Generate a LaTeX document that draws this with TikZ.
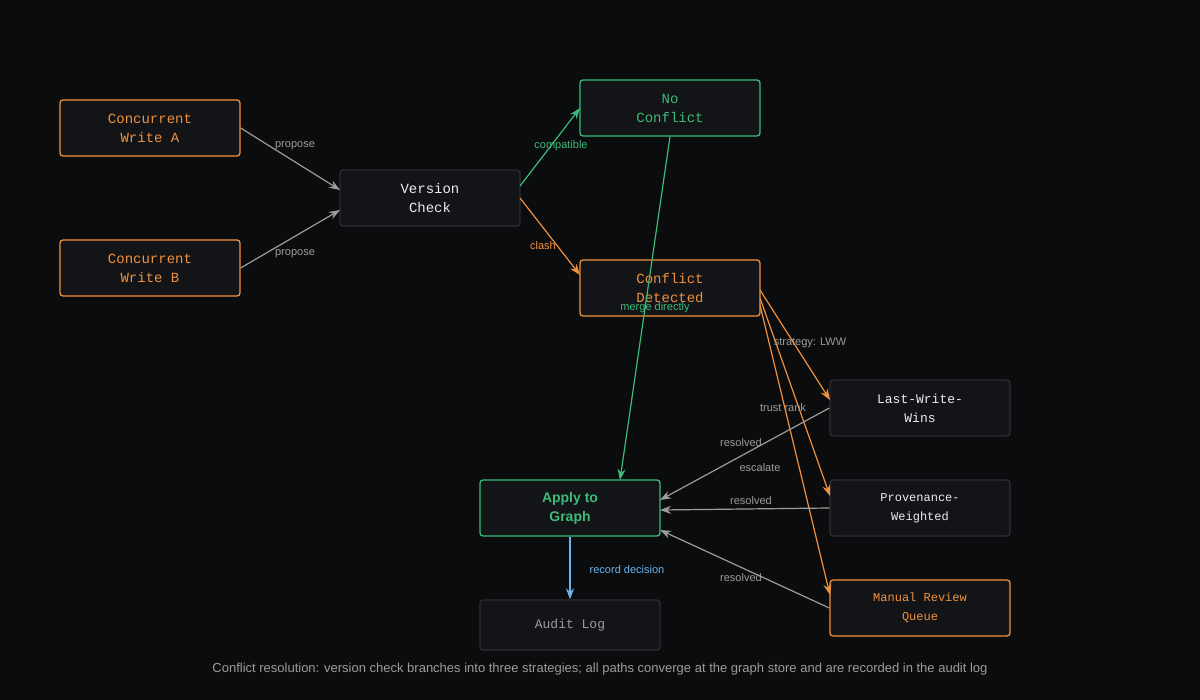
\documentclass[tikz,border=0pt]{standalone}
\usepackage{fontspec}
\setmainfont{Liberation Sans}
\newfontfamily\monof{Liberation Mono}
\usetikzlibrary{arrows.meta}
\definecolor{bg}{HTML}{0B0C0E}
\definecolor{nfill}{HTML}{131417}
\definecolor{dborder}{HTML}{2C2D31}
\definecolor{corange}{HTML}{F0913F}
\definecolor{cgreen}{HTML}{3DBB78}
\definecolor{cgray}{HTML}{9C9C9C}
\definecolor{cblue}{HTML}{6CB4EC}
\definecolor{ctext}{HTML}{EDEDED}
\begin{document}
\begin{tikzpicture}[x=1pt,y=-1pt,
 box/.style={draw=dborder,fill=nfill,rounded corners=3pt,line width=1.3pt,minimum width=180pt,minimum height=56pt,align=center,font=\monof\fontsize{14}{19}\selectfont,text=ctext},
 obox/.style={box,draw=corange,text=corange},
 gbox/.style={box,draw=cgreen,text=cgreen},
 lab/.style={font=\fontsize{11}{13}\selectfont,text=cgray,yshift=-2pt},
 e/.style={-{Stealth[length=11pt,width=8pt]},line width=1.2pt,draw=cgray},
]
\fill[bg] (0,0) rectangle (1200,700);
\node[obox] (a) at (150,128) {Concurrent\\Write A};
\node[obox] (b) at (150,268) {Concurrent\\Write B};
\node[box] (vc) at (430,198) {Version\\Check};
\node[gbox] (nc) at (670,108) {No\\Conflict};
\node[obox] (cd) at (670,288) {Conflict\\Detected};
\node[box,font=\monof\fontsize{13}{19}\selectfont] (lww) at (920,408) {Last-Write-\\Wins};
\node[box,font=\monof\fontsize{12}{19}\selectfont] (pw) at (920,508) {Provenance-\\Weighted};
\node[obox,font=\monof\fontsize{12}{19}\selectfont] (mr) at (920,608) {Manual Review\\Queue};
\node[gbox,font=\bfseries\fontsize{14}{19}\selectfont] (ap) at (570,508) {Apply to\\Graph};
\node[box,minimum height=50pt,text=cgray,font=\monof\fontsize{13}{19}\selectfont] (al) at (570,625) {Audit Log};
\coordinate (vcA) at (340,190); \coordinate (vcB) at (340,210);
\draw[e] (a.east) -- (vcA);
\draw[e] (b.east) -- (vcB);
\draw[e,draw=cgreen] (520,186) -- (580,108);
\draw[e,draw=corange] (520,198) -- (580,275);
\draw[e,draw=cgreen] (nc.south) -- (620,480);
\draw[e,draw=corange] (760,290) -- (830,400);
\draw[e,draw=corange] (760,298) -- (830,496);
\draw[e,draw=corange] (760,305) -- (830,595);
\draw[e] (lww.west) -- (660,500);
\draw[e] (pw.west) -- (660,510);
\draw[e] (mr.west) -- (660,530);
\draw[e,draw=cblue] (ap.south) -- (al.north);
\node[lab] at (295,144) {propose};
\node[lab] at (295,252) {propose};
\node[lab,text=cgreen] at (561,144) {compatible};
\node[lab,text=corange] at (543,244) {clash};
\node[lab,text=cgreen] at (655,306) {merge directly};
\node[lab] at (810,341) {strategy: LWW};
\node[lab] at (783,406) {trust rank};
\node[lab] at (741,441) {resolved};
\node[lab] at (760,466) {escalate};
\node[lab] at (751,499) {resolved};
\node[lab] at (741,576) {resolved};
\node[lab,text=cblue] at (627,568) {record decision};
\node[font=\fontsize{13}{15}\selectfont,text=cgray] (cap) at (600,669) {Conflict resolution: version check branches into three strategies; all paths converge at the graph store and are recorded in the audit log};
\end{tikzpicture}
\end{document}
